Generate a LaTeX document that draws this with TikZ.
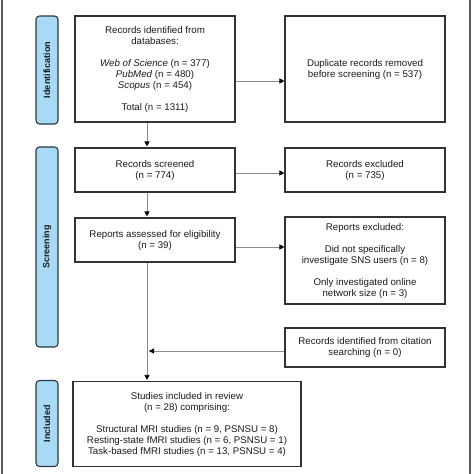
\documentclass[tikz,border=0pt]{standalone}
\usepackage{fontspec}
\setmainfont{Liberation Sans}
\usetikzlibrary{arrows.meta}
\definecolor{lblue}{HTML}{A8DAF6}
\definecolor{lborder}{HTML}{2A3642}
\definecolor{boxc}{HTML}{333333}
\definecolor{linec}{HTML}{8A8A8A}
\definecolor{framec}{HTML}{5A5A5A}
\definecolor{textc}{HTML}{1A1A1A}
\tikzset{
  flowbox/.style={draw=boxc, line width=1.1pt, inner sep=0pt, align=center,
    text=textc, font=\fontsize{9.7}{11}\selectfont},
  phase/.style={draw=lborder, fill=lblue, line width=1.1pt, rounded corners=3.5pt,
    rotate=90, inner sep=0pt, minimum height=22pt, text=textc,
    font=\fontsize{9}{10}\selectfont\bfseries},
  arr/.style={draw=linec, line width=0.7pt, -{Triangle[length=5pt,width=5pt,fill=black,color=black]}},
  frame/.style={draw=framec, line width=1.6pt}
}
\begin{document}
\begin{tikzpicture}[x=1pt,y=-1pt]
\useasboundingbox (0,0) rectangle (474,474);
% outer frame sides
\coordinate (fl1) at (2,0); \coordinate (fl2) at (2,474);
\coordinate (fr1) at (470,0); \coordinate (fr2) at (470,474);
\draw[frame] (fl1) -- (fl2);
\draw[frame] (fr1) -- (fr2);
% phase labels
\node[phase, minimum width=108pt] (pid) at (47,70) {Identification};
\node[phase, minimum width=200pt] (psc) at (47,247) {Screening};
\node[phase, minimum width=86pt] (pin) at (47,423.5) {Included};
% boxes
\node[flowbox, minimum width=160pt, minimum height=106pt] (rec) at (155,69)
  {Records identified from\\databases:\\[11pt]\textit{Web of Science} (n = 377)\\\textit{PubMed} (n = 480)\\\textit{Scopus} (n = 454)\\[11pt]Total (n = 1311)};
\node[flowbox, minimum width=160pt, minimum height=106pt] (dup) at (365,69)
  {Duplicate records removed\\before screening (n = 537)};
\node[flowbox, minimum width=160pt, minimum height=44pt] (scr) at (155,170)
  {Records screened\\(n = 774)};
\node[flowbox, minimum width=160pt, minimum height=44pt] (exc) at (365,170)
  {Records excluded\\(n = 735)};
\node[flowbox, minimum width=160pt, minimum height=44pt] (ass) at (155,240)
  {Reports assessed for eligibility\\(n = 39)};
\node[flowbox, minimum width=160pt, minimum height=87pt] (rex) at (365,260.5)
  {Reports excluded:\\[11pt]Did not specifically\\investigate SNS users (n = 8)\\[11pt]Only investigated online\\network size (n = 3)};
\node[flowbox, minimum width=160pt, minimum height=39pt] (cit) at (365,347.5)
  {Records identified from citation\\searching (n = 0)};
\node[flowbox, minimum width=228pt, minimum height=85pt] (inc) at (187,424)
  {Studies included in review\\(n = 28) comprising:\\[11pt]Structural MRI studies (n = 9, PSNSU = 8)\\Resting-state fMRI studies (n = 6, PSNSU = 1)\\Task-based fMRI studies (n = 13, PSNSU = 4)};
% connectors
\draw[arr] ([yshift=-12pt]rec.east) -- ([yshift=-12pt]rec.east -| dup.west);
\draw[arr] ([yshift=-3pt]scr.east) -- ([yshift=-3pt]scr.east -| exc.west);
\draw[arr] ([yshift=-7pt]ass.east) -- ([yshift=-7pt]ass.east -| rex.west);
\draw[arr, shorten >=1pt] ([xshift=-8pt]rec.south) -- ([xshift=-8pt]scr.north);
\draw[arr, shorten >=1pt] ([xshift=-8pt]scr.south) -- ([xshift=-8pt]ass.north);
\draw[arr, shorten >=1pt] ([xshift=-8pt]ass.south) -- ([xshift=-8pt]ass.south |- inc.north);
\coordinate (cj) at (149,351);
\draw[arr] ([yshift=-3.5pt]cit.west) -- (cj);
\end{tikzpicture}
\end{document}
